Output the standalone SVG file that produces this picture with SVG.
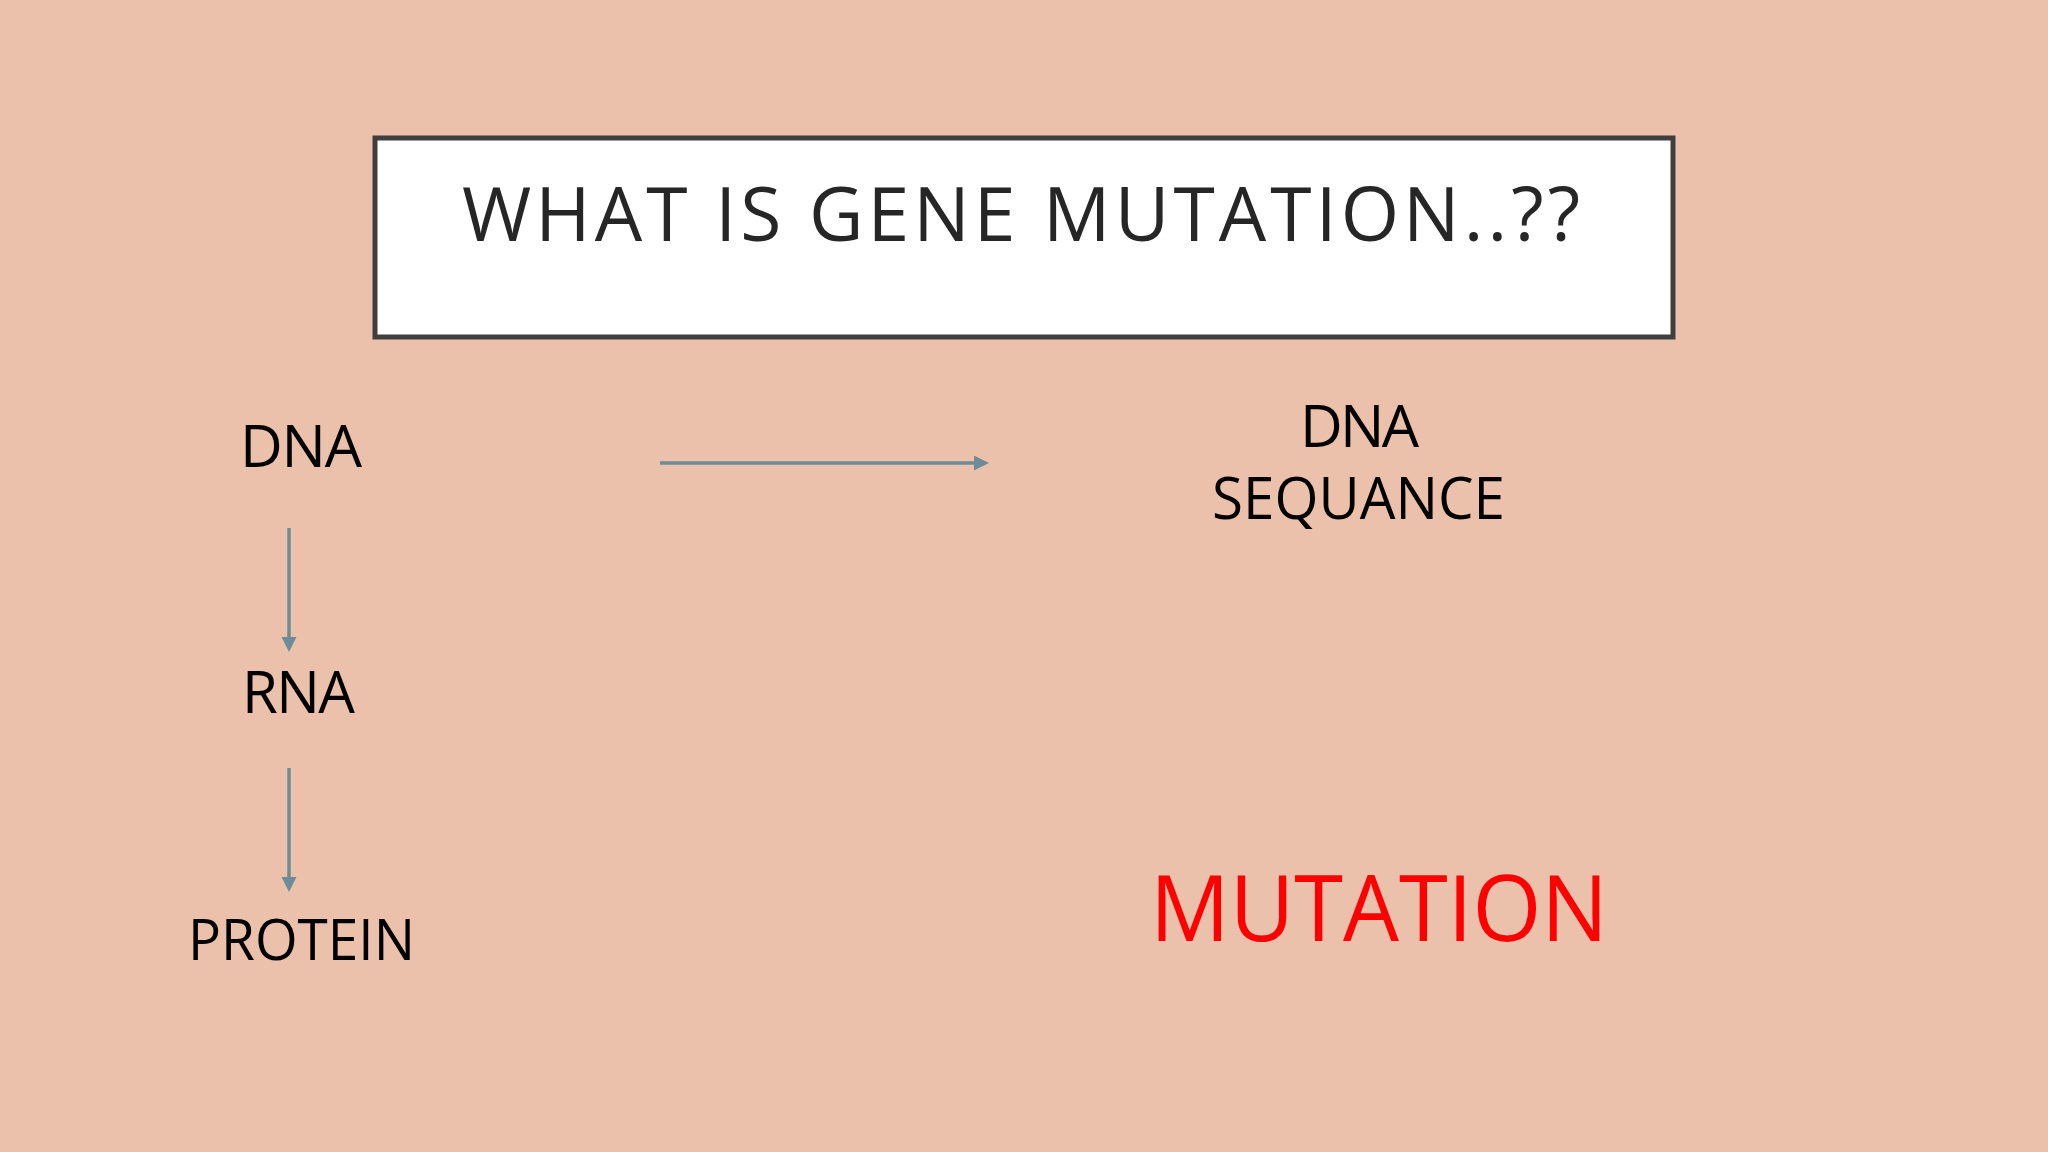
<svg xmlns="http://www.w3.org/2000/svg" width="2048" height="1152" viewBox="0 0 2048 1152">
  <style>
    .lbl { font-family: "Open Sans", "Noto Sans", "DejaVu Sans", sans-serif; fill: #000000; }
    .title { font-family: "Open Sans", "Noto Sans", "DejaVu Sans", sans-serif; fill: #262626; font-size: 75px; }
    .conn { stroke: #6d8c96; stroke-width: 3.5; fill: none; marker-end: url(#arrow); }
  </style>
  <defs>
    <marker id="arrow" markerUnits="userSpaceOnUse" markerWidth="15" markerHeight="15" refX="3" refY="7.5" orient="auto">
      <path d="M0,0 L15,7.5 L0,15 z" fill="#6d8c96"/>
    </marker>
  </defs>
  <rect x="0" y="0" width="2048" height="1152" fill="#ecc1ab"/>

  <g id="title-box">
    <rect x="375" y="138" width="1298" height="199" fill="#ffffff" stroke="#3f3f3f" stroke-width="5"/>
    <text class="title" x="462" y="241" textLength="1118" lengthAdjust="spacing">WHAT IS GENE MUTATION..??</text>
  </g>

  <g id="node-dna">
    <text class="lbl" x="240" y="467" font-size="59" textLength="122" lengthAdjust="spacing">DNA</text>
  </g>
  <g id="node-rna">
    <text class="lbl" x="242" y="713" font-size="58" textLength="113" lengthAdjust="spacing">RNA</text>
  </g>
  <g id="node-protein">
    <text class="lbl" x="188" y="960" font-size="57" textLength="227" lengthAdjust="spacingAndGlyphs">PROTEIN</text>
  </g>
  <g id="node-dna-sequence">
    <text class="lbl" x="1300" y="447" font-size="59" textLength="119" lengthAdjust="spacing">DNA</text>
    <text class="lbl" x="1212" y="519" font-size="59" textLength="293" lengthAdjust="spacingAndGlyphs">SEQUANCE</text>
  </g>
  <g id="node-mutation">
    <text x="1150" y="941" font-family="'Open Sans', 'Noto Sans', 'DejaVu Sans', sans-serif" font-size="92" fill="#ff0000" textLength="458" lengthAdjust="spacingAndGlyphs">MUTATION</text>
  </g>

  <g id="connectors">
    <line class="conn" x1="660" y1="463" x2="977" y2="463"/>
    <line class="conn" x1="289" y1="528" x2="289" y2="640"/>
    <line class="conn" x1="289" y1="768" x2="289" y2="880"/>
  </g>
</svg>
